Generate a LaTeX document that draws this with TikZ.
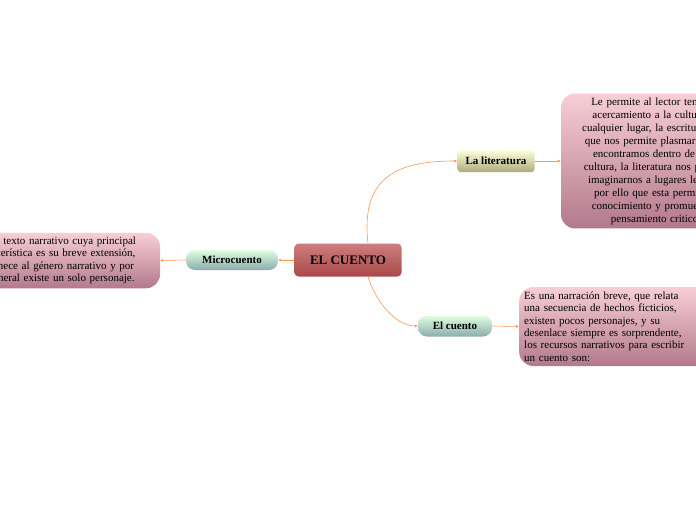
\documentclass[tikz,border=0pt]{standalone}
\usepackage{fontspec}
\setmainfont{Liberation Serif}
\usetikzlibrary{arrows.meta}
\begin{document}
\begin{tikzpicture}[x=1pt,y=-1pt,
  every node/.style={font=\fontsize{11}{12.5}\selectfont},
  pinkbox/.style={rounded corners=14pt, top color=pink!70!purple!40!white, bottom color=purple!40!gray!75, draw=none, inner sep=4pt},
  greenbox/.style={rounded corners=9pt, top color=green!12!white, bottom color=teal!40!gray!65, draw=none, inner sep=2pt, font=\fontsize{11}{12}\selectfont\bfseries},
  yelbox/.style={rounded corners=3pt, top color=yellow!12!white, bottom color=olive!30!gray!65, draw=none, inner sep=2pt, font=\fontsize{11}{12}\selectfont\bfseries},
  conn/.style={draw=orange!80!red!70, line width=0.6pt},
  tip/.style={-{Latex[length=3pt,width=3pt]}}]
\useasboundingbox (0,0) rectangle (696,520);
\begin{scope}
\clip (0,0) rectangle (696,520);
\node[rounded corners=4pt, top color=red!45!gray!70, bottom color=red!40!gray!95!black, minimum width=107pt, minimum height=33pt, font=\fontsize{13}{14}\selectfont\bfseries, text depth=0pt] (root) at (348,260) {EL CUENTO\hspace{20pt}};
\node[greenbox, minimum width=92pt, minimum height=20pt] (micro) at (232,260) {Microcuento};
\node[yelbox, minimum width=77pt, minimum height=22pt] (lit) at (496,161) {La literatura};
\node[greenbox, minimum width=74pt, minimum height=21pt] (cue) at (455,326) {El cuento};
\node[pinkbox, minimum width=210pt, minimum height=55pt, text width=200pt, align=center] (mbox) at (55,260.5) {Es un texto narrativo cuya principal\\ característica  es su breve extensión,\\ pertenece al género narrativo y por\\ lo general existe un solo personaje.};
\node[pinkbox, minimum width=190pt, minimum height=130pt, text width=180pt, align=center, font=\fontsize{11}{13}\selectfont] (lbox) at (656,161) {Le permite al lector tener un\\ acercamiento a la cultura de\\ cualquier lugar,  la escritura es lo\\ que nos permite plasmar lo que\\ encontramos dentro de cada\\ cultura, la literatura nos permite\\ imaginarnos a lugares lejanos,\\ por ello que esta permite el\\ conocimiento y promueve el\\ pensamiento critico.};
\node[pinkbox, minimum width=200pt, minimum height=79pt, text width=190pt, align=left, anchor=west, font=\fontsize{11}{12.3}\selectfont] (cbox) at (519,326.5) {Es una narración breve, que relata\\ una secuencia de hechos ficticios,\\ existen pocos personajes,  y su\\ desenlace siempre es sorprendente,\\ los recursos narrativos para escribir\\ un cuento son:};
\draw[conn,tip] (root.west) -- (micro.east);
\draw[conn,tip] (micro.west) -- (mbox.east);
\draw[conn,tip] ([xshift=20pt]root.north) .. controls (360,175) and (400,161) .. (lit.west);
\draw[conn,tip] ([xshift=20pt]root.south) .. controls (375,300) and (395,326) .. (cue.west);
\draw[conn,tip] (lit.east) -- (lbox.west);
\draw[conn,tip] (cue.east) -- (cbox.west);
\end{scope}
\end{tikzpicture}
\end{document}
